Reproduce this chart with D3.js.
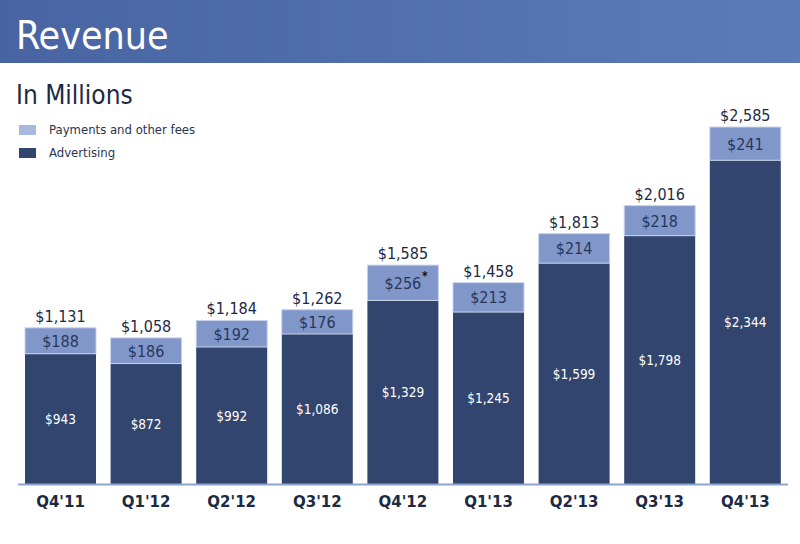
<!DOCTYPE html>
<html>
<head>
<meta charset="utf-8">
<script src="https://cdn.jsdelivr.net/npm/d3@7.9.0/dist/d3.min.js"></script>
<style>
  body { margin: 0; background: #fff; }
  svg { display: block; }
</style>
</head>
<body>
<div id="chart"></div>
<script>
// quarterly revenue, in millions
const quarters = ["Q4'11", "Q1'12", "Q2'12", "Q3'12", "Q4'12", "Q1'13", "Q2'13", "Q3'13", "Q4'13"];
const advertising = [943, 872, 992, 1086, 1329, 1245, 1599, 1798, 2344];
const payments = [188, 186, 192, 176, 256, 213, 214, 218, 241];
const totals = [1131, 1058, 1184, 1262, 1585, 1458, 1813, 2016, 2585];
const footnoted = ["Q4'12"];

const width = 800, height = 544;
const baseline = 484;

const svg = d3.select('#chart').append('svg')
  .attr('width', width)
  .attr('height', height);

// header band
const grad = svg.append('defs').append('linearGradient')
  .attr('id', 'hdr').attr('x1', 0).attr('x2', 1).attr('y1', 0).attr('y2', 0);
grad.append('stop').attr('offset', '0%').attr('stop-color', '#4864a3');
grad.append('stop').attr('offset', '100%').attr('stop-color', '#5c7bb6');

svg.append('rect')
  .attr('x', 0).attr('y', 0)
  .attr('width', width).attr('height', 63)
  .attr('fill', 'url(#hdr)');

const font = 'Tahoma, "DejaVu Sans Condensed", "DejaVu Sans", sans-serif';

svg.append('text')
  .attr('x', 16).attr('y', 49)
  .attr('fill', '#fff')
  .style('font-family', font)
  .style('font-size', '39px')
  .text('Revenue');

svg.append('text')
  .attr('x', 16).attr('y', 104)
  .attr('fill', '#1d2a44')
  .style('font-family', font)
  .style('font-size', '26px')
  .text('In Millions');

// legend
const legend = [
  { label: 'Payments and other fees', color: '#a9b9dd' },
  { label: 'Advertising', color: '#32456e' }
];
const lg = svg.selectAll('.legend').data(legend).enter().append('g')
  .attr('transform', (d, i) => `translate(19, ${125 + i * 23})`);
lg.append('rect').attr('width', 17).attr('height', 10).attr('fill', d => d.color);
lg.append('text')
  .attr('x', 30).attr('y', 9)
  .attr('fill', '#2a3550')
  .style('font-family', font)
  .style('font-size', '13px')
  .text(d => d.label);

// scales
const step = 85.6, barW = 71;
const x = d3.scaleBand()
  .domain(quarters)
  .range([25, 25 + step * 8 + barW])
  .paddingInner((step - barW) / step)
  .paddingOuter(0);

const y = d3.scaleLinear()
  .domain([0, 2585])
  .range([baseline, 127]);

const data = quarters.map((q, i) => ({
  q, ad: advertising[i], pay: payments[i], total: totals[i]
}));

const bars = svg.append('g').selectAll('g').data(data).enter().append('g');

bars.append('rect')
  .attr('x', d => x(d.q))
  .attr('width', x.bandwidth())
  .attr('y', d => y(d.ad))
  .attr('height', d => baseline - y(d.ad))
  .attr('fill', '#32456e');

bars.append('rect')
  .attr('x', d => x(d.q))
  .attr('width', x.bandwidth())
  .attr('y', d => y(d.ad + d.pay))
  .attr('height', d => y(d.ad) - y(d.ad + d.pay))
  .attr('fill', '#8197ca')
  .attr('stroke', '#c9d3ea')
  .attr('stroke-width', 1);

const fmt = v => '$' + d3.format(',')(v);

// advertising values
bars.append('text')
  .attr('x', d => x(d.q) + x.bandwidth() / 2)
  .attr('y', d => (y(d.ad) + baseline) / 2 + 5)
  .attr('text-anchor', 'middle')
  .attr('fill', '#fff')
  .style('font-family', font)
  .style('font-size', '13.5px')
  .text(d => fmt(d.ad));

// payments values
bars.append('text')
  .attr('x', d => x(d.q) + x.bandwidth() / 2)
  .attr('y', d => (y(d.ad) + y(d.ad + d.pay)) / 2 + 6)
  .attr('text-anchor', 'middle')
  .attr('fill', '#27375a')
  .style('font-family', font)
  .style('font-size', '16px')
  .text(d => fmt(d.pay));

// footnote mark
bars.filter(d => footnoted.includes(d.q)).append('text')
  .attr('x', d => x(d.q) + x.bandwidth() / 2 + 22)
  .attr('y', d => y(d.ad + d.pay) + 15)
  .attr('text-anchor', 'middle')
  .attr('fill', '#111')
  .style('font-family', font)
  .style('font-size', '12px')
  .style('font-weight', 'bold')
  .text('*');

// totals
bars.append('text')
  .attr('x', d => x(d.q) + x.bandwidth() / 2)
  .attr('y', d => y(d.total) - 6)
  .attr('text-anchor', 'middle')
  .attr('fill', '#1d2a44')
  .style('font-family', font)
  .style('font-size', '16px')
  .text(d => fmt(d.total));

// axis
const axis = svg.append('g')
  .attr('transform', `translate(0, ${baseline})`)
  .call(d3.axisBottom(x).tickSize(0).tickPadding(12));
axis.select('.domain')
  .attr('d', 'M18,0.5H788')
  .attr('stroke', '#8ea4cf')
  .attr('stroke-width', 2);
axis.selectAll('.tick text')
  .attr('fill', '#1d2a44')
  .style('font-family', '"DejaVu Sans", Verdana, sans-serif')
  .style('font-size', '15px')
  .style('font-weight', 'bold');
</script>
</body>
</html>
